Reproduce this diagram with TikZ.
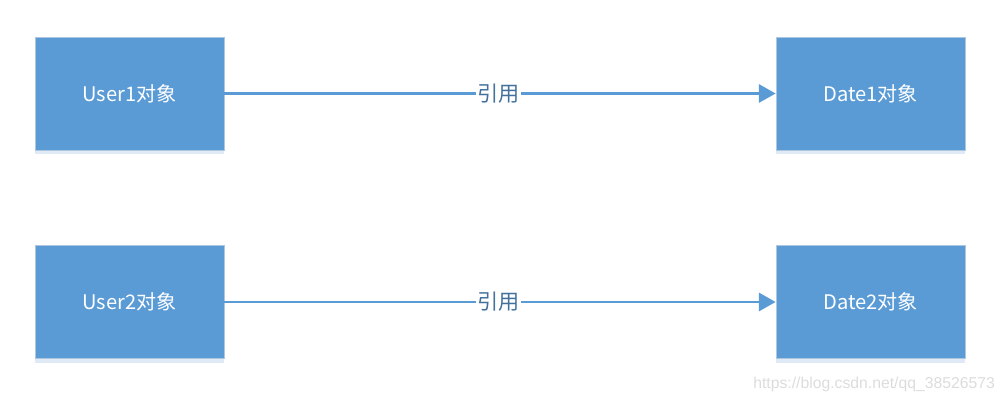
\documentclass[tikz,border=0pt]{standalone}
\usepackage{fontspec}
\setmainfont{Noto Sans CJK SC}
\newfontfamily\urlfont{Liberation Sans}
\usepackage{tikz}
\usetikzlibrary{arrows.meta}
\usetikzlibrary{shadows}

\definecolor{boxblue}{HTML}{5B9BD5}
\definecolor{boxedge}{HTML}{AFC6DF}
\definecolor{labelblue}{HTML}{41719C}
\definecolor{shadowblue}{HTML}{C9DCF0}
\definecolor{markgray}{HTML}{DCDCDC}

\tikzset{
    objbox/.style={draw=boxedge, line width=0.5pt, fill=boxblue, text=white,
        minimum width=4.725cm, minimum height=2.825cm, inner sep=0pt,
        font=\fontsize{14.3}{16}\selectfont,
        drop shadow={shadow xshift=0pt, shadow yshift=-3pt, fill=shadowblue, opacity=0.6}},
    refline/.style={draw=boxblue, line width=1.8pt, -{Triangle[length=12pt, width=13pt]}},
    reflabel/.style={fill=white, text=labelblue, inner sep=1pt, font=\fontsize{15}{17}\selectfont}
}

\begin{document}
\begin{tikzpicture}
        \useasboundingbox (0,0) rectangle (25.15,10.15);

        \node[objbox] (user1) at (3.2375,7.8125) {User1对象};
        \node[objbox] (date1) at (21.7625,7.8125) {Date1对象};
        \node[objbox] (user2) at (3.2375,2.6) {User2对象};
        \node[objbox] (date2) at (21.7625,2.6) {Date2对象};

        \draw[refline] (user1) -- node[reflabel, pos=0.497] (ref1) {引用} (date1);
        \draw[refline] (user2) -- node[reflabel, pos=0.497] (ref2) {引用} (date2);

        \node[text=markgray, anchor=east, inner sep=0pt, font=\urlfont\fontsize{11.2}{13}\selectfont] (mark) at (24.88,0.55) {https://blog.csdn.net/qq\_38526573};
\end{tikzpicture}
\end{document}
